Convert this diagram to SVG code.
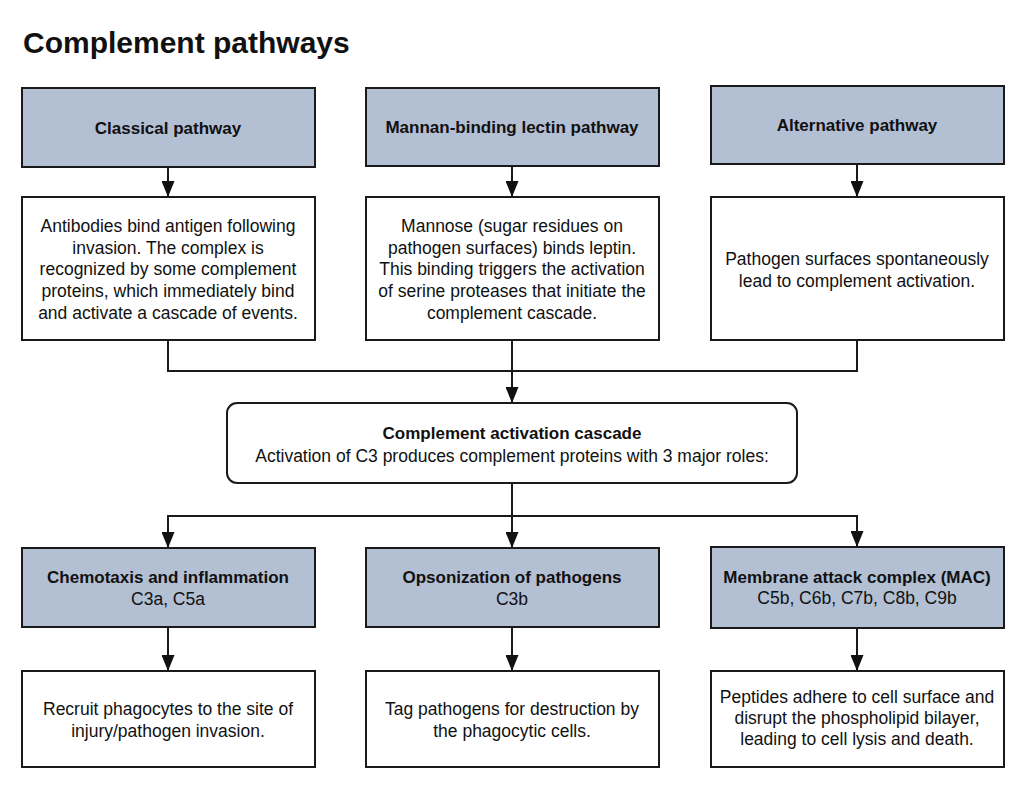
<svg xmlns="http://www.w3.org/2000/svg" width="1024" height="788" viewBox="0 0 1024 788">
<defs>
<style>
.hdr{fill:#b3bfd3;stroke:#1a1a1a;stroke-width:2}
.body{fill:#ffffff;stroke:#1a1a1a;stroke-width:2}
.ln{fill:none;stroke:#1a1a1a;stroke-width:2}
text{font-family:"Liberation Sans",Arial,sans-serif;fill:#111;text-anchor:middle}
.b{font-weight:bold;font-size:17px}
.t{font-size:17.5px}
.title{font-size:30px;font-weight:bold;text-anchor:start}
</style>
<marker id="ad" viewBox="0 0 16 13" refX="16" refY="6.5" markerWidth="16" markerHeight="13" markerUnits="userSpaceOnUse" orient="auto">
<path d="M0,0 L16,6.5 L0,13 Z" fill="#111"/>
</marker>
</defs>
<rect width="1024" height="788" fill="#ffffff"/>
<text class="title" x="23" y="53">Complement pathways</text>

<g id="connectors">
<line class="ln" x1="168" y1="167" x2="168" y2="197" marker-end="url(#ad)"/>
<line class="ln" x1="512" y1="166" x2="512" y2="197" marker-end="url(#ad)"/>
<line class="ln" x1="857" y1="164" x2="857" y2="197" marker-end="url(#ad)"/>
<polyline class="ln" points="168,340 168,371 857,371 857,340"/>
<line class="ln" x1="512" y1="340" x2="512" y2="403" marker-end="url(#ad)"/>
<line class="ln" x1="512" y1="483" x2="512" y2="548" marker-end="url(#ad)"/>
<line class="ln" x1="167" y1="516" x2="858" y2="516"/>
<line class="ln" x1="168" y1="516" x2="168" y2="548" marker-end="url(#ad)"/>
<line class="ln" x1="857" y1="516" x2="857" y2="547" marker-end="url(#ad)"/>
<line class="ln" x1="168" y1="627" x2="168" y2="671" marker-end="url(#ad)"/>
<line class="ln" x1="512" y1="627" x2="512" y2="671" marker-end="url(#ad)"/>
<line class="ln" x1="857" y1="628" x2="857" y2="671" marker-end="url(#ad)"/>
</g>

<g id="classical-header">
<rect class="hdr" x="22" y="88" width="293" height="79"/>
<text class="b" x="168" y="134">Classical pathway</text>
</g>
<g id="classical-body">
<rect class="body" x="22" y="197" width="293" height="143"/>
<text class="t" x="168" y="232">Antibodies bind antigen following</text>
<text class="t" x="168" y="253.7">invasion. The complex is</text>
<text class="t" x="168" y="275.4">recognized by some complement</text>
<text class="t" x="168" y="297.1">proteins, which immediately bind</text>
<text class="t" x="168" y="318.8">and activate a cascade of events.</text>
</g>

<g id="mbl-header">
<rect class="hdr" x="366" y="88" width="293" height="78"/>
<text class="b" x="512" y="133">Mannan-binding lectin pathway</text>
</g>
<g id="mbl-body">
<rect class="body" x="366" y="197" width="293" height="143"/>
<text class="t" x="512" y="232">Mannose (sugar residues on</text>
<text class="t" x="512" y="253.7">pathogen surfaces) binds leptin.</text>
<text class="t" x="512" y="275.4">This binding triggers the activation</text>
<text class="t" x="512" y="297.1">of serine proteases that initiate the</text>
<text class="t" x="512" y="318.8">complement cascade.</text>
</g>

<g id="alternative-header">
<rect class="hdr" x="711" y="86" width="293" height="78"/>
<text class="b" x="857" y="131">Alternative pathway</text>
</g>
<g id="alternative-body">
<rect class="body" x="711" y="197" width="293" height="143"/>
<text class="t" x="857" y="265">Pathogen surfaces spontaneously</text>
<text class="t" x="857" y="287">lead to complement activation.</text>
</g>

<g id="cascade">
<rect class="body" x="227" y="403" width="570" height="80" rx="10" ry="10"/>
<text class="b" x="512" y="439">Complement activation cascade</text>
<text class="t" x="512" y="462">Activation of C3 produces complement proteins with 3 major roles:</text>
</g>

<g id="chemotaxis-header">
<rect class="hdr" x="22" y="548" width="293" height="79"/>
<text class="b" x="168" y="583">Chemotaxis and inflammation</text>
<text class="t" x="168" y="605">C3a, C5a</text>
</g>
<g id="chemotaxis-body">
<rect class="body" x="22" y="671" width="293" height="96"/>
<text class="t" x="168" y="715">Recruit phagocytes to the site of</text>
<text class="t" x="168" y="737">injury/pathogen invasion.</text>
</g>

<g id="opsonization-header">
<rect class="hdr" x="366" y="548" width="293" height="79"/>
<text class="b" x="512" y="583">Opsonization of pathogens</text>
<text class="t" x="512" y="605">C3b</text>
</g>
<g id="opsonization-body">
<rect class="body" x="366" y="671" width="293" height="96"/>
<text class="t" x="512" y="715">Tag pathogens for destruction by</text>
<text class="t" x="512" y="737">the phagocytic cells.</text>
</g>

<g id="mac-header">
<rect class="hdr" x="711" y="547" width="293" height="81"/>
<text class="b" x="857" y="583">Membrane attack complex (MAC)</text>
<text class="t" x="857" y="604">C5b, C6b, C7b, C8b, C9b</text>
</g>
<g id="mac-body">
<rect class="body" x="711" y="671" width="293" height="96"/>
<text class="t" x="857" y="703">Peptides adhere to cell surface and</text>
<text class="t" x="857" y="724">disrupt the phospholipid bilayer,</text>
<text class="t" x="857" y="745">leading to cell lysis and death.</text>
</g>
</svg>
